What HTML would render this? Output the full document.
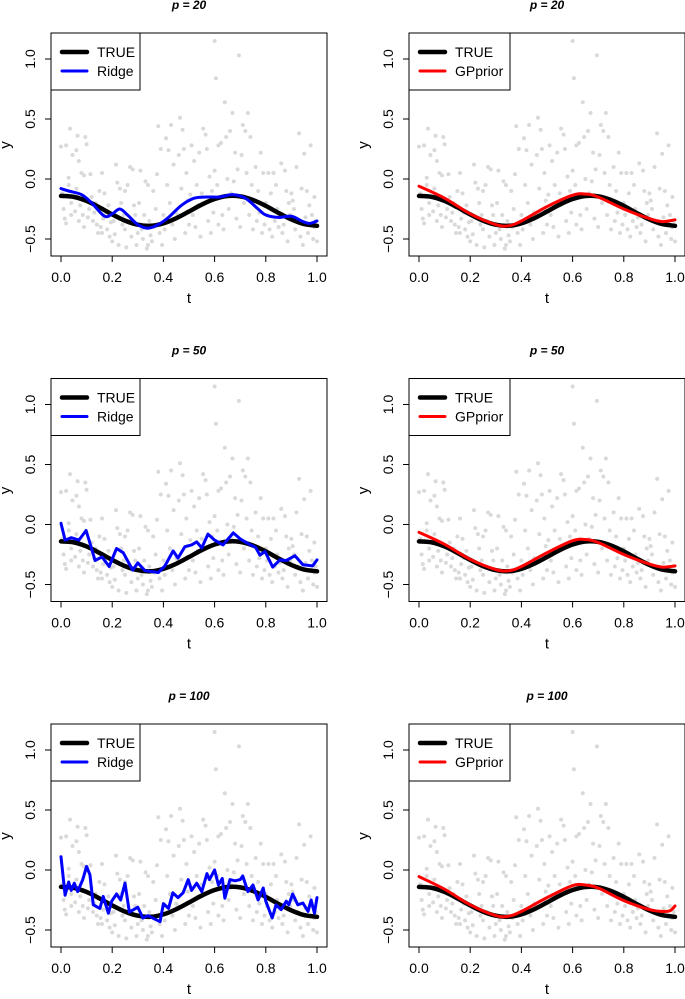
<!DOCTYPE html>
<html><head><meta charset="utf-8"><style>
html,body{margin:0;padding:0;background:#fff;}
svg{display:block;font-family:"Liberation Sans",Arial,sans-serif;}
</style></head><body>
<svg id="chart" width="685" height="999" viewBox="0 0 685 999"></svg>
<script>
// ---- data ----
const ptT=[0.0,0.02,0.035,0.01,0.02,0.03,0.04,0.005,0.045,0.03,0.015,0.04,
0.065,0.095,0.1,0.06,0.07,0.08,0.09,0.06,0.075,0.085,0.07,0.095,0.055,0.09,
0.115,0.12,0.13,0.14,0.11,0.145,0.125,0.15,0.135,0.105,
0.16,0.17,0.18,0.19,0.165,0.155,0.175,0.195,0.185,0.2,0.16,
0.215,0.22,0.23,0.24,0.25,0.21,0.225,0.245,0.235,0.205,0.25,
0.26,0.27,0.28,0.29,0.275,0.255,0.265,0.285,0.3,0.295,
0.31,0.33,0.34,0.32,0.335,0.315,0.345,0.305,0.325,0.35,0.34,
0.36,0.375,0.38,0.39,0.37,0.385,0.355,0.395,0.365,0.4,
0.41,0.42,0.43,0.44,0.415,0.425,0.435,0.445,0.405,0.45,
0.465,0.475,0.46,0.48,0.49,0.47,0.455,0.485,0.495,0.5,
0.51,0.52,0.54,0.53,0.505,0.515,0.525,0.545,0.535,0.55,
0.555,0.565,0.57,0.58,0.59,0.56,0.575,0.585,0.595,0.6,
0.6,0.605,0.615,0.625,0.64,0.645,0.61,0.62,0.63,0.635,0.65,0.615,
0.67,0.66,0.695,0.68,0.69,0.675,0.655,0.685,0.665,0.7,
0.71,0.73,0.72,0.74,0.705,0.725,0.745,0.715,0.735,0.75,
0.76,0.78,0.77,0.79,0.755,0.765,0.785,0.775,0.8,0.795,
0.81,0.83,0.82,0.84,0.805,0.815,0.825,0.835,0.845,0.85,
0.86,0.875,0.88,0.89,0.855,0.865,0.885,0.87,0.895,0.9,
0.93,0.92,0.94,0.91,0.925,0.935,0.945,0.915,0.95,0.905,
0.975,0.96,0.97,0.98,0.99,0.965,0.985,1.0,0.995,0.955,0.99];
const ptY=[0.27,0.28,0.42,-0.25,-0.37,-0.05,-0.2,-0.12,0.2,0.01,-0.33,-0.3,
0.36,0.35,0.29,0.24,0.15,0.05,0.03,-0.08,-0.22,-0.3,-0.35,-0.18,-0.27,-0.4,
0.04,-0.15,-0.28,-0.38,-0.25,-0.45,-0.35,-0.1,-0.2,-0.32,
0.05,-0.12,-0.42,-0.48,-0.33,-0.4,-0.28,-0.36,-0.22,-0.52,-0.45,
0.12,-0.03,-0.08,-0.38,-0.42,-0.46,-0.55,-0.3,-0.2,-0.35,-0.1,
-0.05,0.1,0.08,-0.3,-0.48,-0.57,-0.35,-0.22,-0.45,-0.55,
0.07,-0.02,-0.05,-0.5,-0.58,-0.42,-0.35,-0.2,-0.3,-0.47,-0.55,
-0.1,0.04,0.44,0.25,-0.25,-0.45,-0.52,-0.55,-0.4,-0.3,
0.34,0.24,0.45,0.12,-0.05,-0.2,-0.38,-0.5,-0.42,-0.28,
0.51,0.41,0.2,0.25,0.05,-0.08,-0.3,-0.45,-0.18,-0.38,
0.28,0.15,0.22,-0.05,-0.13,-0.3,-0.4,-0.48,-0.22,-0.12,
0.42,0.37,0.25,0.02,-0.1,-0.2,-0.35,-0.45,-0.28,0.07,
1.15,0.84,0.28,0.3,0.64,0.35,-0.05,-0.15,-0.3,-0.42,0.0,-0.38,
0.55,0.4,1.03,0.22,0.08,-0.02,-0.25,-0.33,-0.12,-0.4,
0.45,0.55,0.4,0.35,0.2,0.05,-0.05,-0.2,-0.3,-0.42,
0.1,0.22,-0.1,0.05,-0.18,-0.35,-0.45,-0.28,-0.2,-0.38,
0.05,0.05,-0.12,-0.05,-0.3,-0.42,-0.48,-0.35,-0.25,-0.4,
0.13,0.07,-0.1,-0.2,-0.32,-0.45,-0.52,-0.38,-0.3,-0.12,
0.38,0.1,-0.08,-0.25,-0.35,-0.48,-0.55,-0.42,0.21,-0.18,
0.28,-0.1,-0.22,-0.3,-0.4,-0.45,-0.5,-0.52,-0.35,-0.32,-0.15];

const trueT=[0,0.05,0.1,0.15,0.2,0.25,0.3,0.35,0.4,0.45,0.5,0.55,0.6,0.65,0.7,0.75,0.8,0.85,0.9,0.95,1.0];
const trueY=[-0.141,-0.149,-0.183,-0.236,-0.295,-0.347,-0.381,-0.390,-0.370,-0.327,-0.271,-0.213,-0.167,-0.142,-0.145,-0.175,-0.224,-0.283,-0.337,-0.376,-0.390];

const r20T=[0,0.03,0.08,0.12,0.17,0.2,0.23,0.26,0.3,0.34,0.38,0.42,0.47,0.52,0.57,0.62,0.67,0.72,0.77,0.8,0.85,0.9,0.94,0.97,1.0];
const r20Y=[-0.08,-0.1,-0.13,-0.2,-0.31,-0.29,-0.25,-0.3,-0.38,-0.41,-0.38,-0.32,-0.22,-0.16,-0.15,-0.15,-0.13,-0.16,-0.25,-0.3,-0.32,-0.31,-0.35,-0.37,-0.35];

const r50T=[0,0.016,0.04,0.07,0.098,0.113,0.133,0.16,0.188,0.217,0.243,0.28,0.3,0.328,0.38,0.406,0.438,0.457,0.484,0.51,0.53,0.55,0.574,0.6,0.633,0.673,0.7,0.74,0.76,0.777,0.797,0.827,0.855,0.88,0.914,0.945,0.983,1.0];
const r50Y=[0.01,-0.13,-0.11,-0.13,-0.05,-0.155,-0.3,-0.27,-0.35,-0.2,-0.235,-0.38,-0.32,-0.385,-0.4,-0.345,-0.22,-0.28,-0.185,-0.17,-0.145,-0.195,-0.08,-0.13,-0.17,-0.07,-0.12,-0.17,-0.19,-0.255,-0.225,-0.355,-0.295,-0.3,-0.26,-0.335,-0.345,-0.295];

const r100T=[0,0.016,0.03,0.04,0.052,0.065,0.085,0.1,0.113,0.126,0.152,0.165,0.185,0.198,0.217,0.233,0.25,0.267,0.284,0.3,0.32,0.34,0.367,0.387,0.4,0.42,0.437,0.457,0.477,0.497,0.51,0.53,0.55,0.57,0.58,0.6,0.615,0.63,0.64,0.66,0.68,0.7,0.71,0.73,0.75,0.77,0.79,0.8,0.825,0.84,0.86,0.88,0.89,0.905,0.925,0.945,0.965,0.977,0.99,1.0];
const r100Y=[0.11,-0.21,-0.1,-0.17,-0.11,-0.18,-0.08,0.03,-0.04,-0.29,-0.32,-0.22,-0.36,-0.26,-0.2,-0.25,-0.11,-0.35,-0.33,-0.31,-0.4,-0.38,-0.41,-0.43,-0.28,-0.32,-0.19,-0.23,-0.19,-0.08,-0.17,-0.11,-0.18,-0.03,-0.08,0.0,-0.125,-0.07,-0.235,-0.08,-0.09,-0.08,-0.05,-0.18,-0.125,-0.25,-0.15,-0.26,-0.4,-0.29,-0.33,-0.26,-0.29,-0.2,-0.29,-0.275,-0.345,-0.25,-0.36,-0.23];

const gp20T=[0,0.1,0.2,0.3,0.35,0.4,0.5,0.6,0.65,0.7,0.8,0.9,0.95,1.0];
const gp20Y=[-0.06,-0.16,-0.29,-0.38,-0.39,-0.35,-0.23,-0.135,-0.125,-0.15,-0.25,-0.33,-0.355,-0.34];
const gp50T=[0,0.1,0.2,0.3,0.35,0.4,0.5,0.6,0.65,0.7,0.8,0.9,0.95,1.0];
const gp50Y=[-0.065,-0.165,-0.29,-0.375,-0.385,-0.35,-0.235,-0.135,-0.125,-0.15,-0.25,-0.33,-0.355,-0.345];
const gp100T=[0,0.1,0.2,0.3,0.35,0.4,0.5,0.6,0.65,0.7,0.8,0.9,0.95,0.98,1.0];
const gp100Y=[-0.055,-0.16,-0.29,-0.38,-0.385,-0.345,-0.23,-0.13,-0.125,-0.15,-0.255,-0.33,-0.345,-0.34,-0.3];

const xTicks=[0,0.2,0.4,0.6,0.8,1.0];
const xTickLabels=["0.0","0.2","0.4","0.6","0.8","1.0"];
const yTicks=[-0.5,0,0.5,1.0];
const yTickLabels=["\u22120.5","0.0","0.5","1.0"];

// ---- drawing ----
const NS="http://www.w3.org/2000/svg";
const svg=document.getElementById('chart');
function mk(tag,attrs,parent){const e=document.createElementNS(NS,tag);for(const k in attrs)e.setAttribute(k,attrs[k]);(parent||svg).appendChild(e);return e;}

function smoothPath(pts){
  let d="M"+pts[0][0].toFixed(2)+","+pts[0][1].toFixed(2);
  for(let i=0;i<pts.length-1;i++){
    const p0=pts[Math.max(0,i-1)],p1=pts[i],p2=pts[i+1],p3=pts[Math.min(pts.length-1,i+2)];
    const c1=[p1[0]+(p2[0]-p0[0])/6,p1[1]+(p2[1]-p0[1])/6];
    const c2=[p2[0]-(p3[0]-p1[0])/6,p2[1]-(p3[1]-p1[1])/6];
    d+=" C"+c1[0].toFixed(2)+","+c1[1].toFixed(2)+" "+c2[0].toFixed(2)+","+c2[1].toFixed(2)+" "+p2[0].toFixed(2)+","+p2[1].toFixed(2);
  }
  return d;
}
function linePath(pts){return pts.map((p,i)=>(i?"L":"M")+p[0].toFixed(2)+","+p[1].toFixed(2)).join(" ");}

function panel(ox,oy,title,fitT,fitY,fitColor,fitName,smooth,key){
  const g=mk('g',{});
  
  
  const sx=t=>ox+10+t*256;
  const sy=y=>oy+146-y*120;
  const W=276,H=223;
  const tt=mk('text',{x:ox+W/2,y:oy-24,'text-anchor':'middle','font-size':'12','font-weight':'bold','font-style':'italic'},g);
  tt.textContent=title;
  
  
  const pg=mk('g',{fill:'#d9d9d9'},g);
  
  
  for(let i=0;i<ptT.length;i++){
    const c=mk('circle',{cx:sx(ptT[i]).toFixed(1),cy:sy(ptY[i]).toFixed(1),r:2},pg);
    
    
  }
  const tp=mk('path',{d:smoothPath(trueT.map((t,i)=>[sx(t),sy(trueY[i])])),fill:'none',stroke:'#000','stroke-width':4.5,'stroke-linecap':'round','stroke-linejoin':'round'},g);
  
  
  const fpts=fitT.map((t,i)=>[sx(t),sy(fitY[i])]);
  const fp=mk('path',{d:smooth?smoothPath(fpts):linePath(fpts),fill:'none',stroke:fitColor,'stroke-width':3,'stroke-linecap':'round','stroke-linejoin':'round'},g);
  
  
  const bx=mk('rect',{x:ox,y:oy,width:W,height:H,fill:'none',stroke:'#000','stroke-width':1},g);
  
  
  const xa=mk('g',{},g);
  
  
  mk('line',{x1:sx(0),x2:sx(1),y1:oy+H,y2:oy+H,stroke:'#000'},xa);
  xTicks.forEach((v,i)=>{
    mk('line',{x1:sx(v),x2:sx(v),y1:oy+H,y2:oy+H+6,stroke:'#000'},xa);
    const l=mk('text',{x:sx(v),y:oy+H+26,'text-anchor':'middle','font-size':'14'},xa);
    l.textContent=xTickLabels[i];
    
    
  });
  const xt=mk('text',{x:ox+W/2,y:oy+H+47,'text-anchor':'middle','font-size':'15'},g);
  xt.textContent='t';
  
  
  const ya=mk('g',{},g);
  
  
  mk('line',{x1:ox,x2:ox,y1:sy(-0.5),y2:sy(1),stroke:'#000'},ya);
  yTicks.forEach((v,i)=>{
    mk('line',{x1:ox,x2:ox-6,y1:sy(v),y2:sy(v),stroke:'#000'},ya);
    const l=mk('text',{x:0,y:0,'text-anchor':'middle','font-size':'14',transform:'translate('+(ox-16)+','+sy(v)+') rotate(-90)'},ya);
    l.textContent=yTickLabels[i];
    
    
  });
  const yt=mk('text',{x:0,y:0,'text-anchor':'middle','font-size':'15',transform:'translate('+(ox-41)+','+(oy+112)+') rotate(-90)'},g);
  yt.textContent='y';
  
  
  const lg=mk('g',{},g);
  
  
  const lw=fitName==='GPprior'?101:89;
  mk('rect',{x:ox,y:oy,width:lw,height:57,fill:'#fff',stroke:'#000','stroke-width':1},lg);
  mk('line',{x1:ox+11,x2:ox+36,y1:oy+19,y2:oy+19,stroke:'#000','stroke-width':4.5,'stroke-linecap':'round'},lg);
  const l1=mk('text',{x:ox+46,y:oy+24,'font-size':'14'},lg);
  l1.textContent='TRUE';
  
  
  mk('line',{x1:ox+11,x2:ox+36,y1:oy+38,y2:oy+38,stroke:fitColor,'stroke-width':3,'stroke-linecap':'round'},lg);
  const l2=mk('text',{x:ox+46,y:oy+43,'font-size':'14'},lg);
  l2.textContent=fitName;
  
  
}
const L=51,R=409,rows=[33,378.5,724];
panel(L,rows[0],'p = 20',r20T,r20Y,'#0000ff','Ridge',true,'ridge-p20');
panel(R,rows[0],'p = 20',gp20T,gp20Y,'#ff0000','GPprior',true,'gp-p20');
panel(L,rows[1],'p = 50',r50T,r50Y,'#0000ff','Ridge',false,'ridge-p50');
panel(R,rows[1],'p = 50',gp50T,gp50Y,'#ff0000','GPprior',true,'gp-p50');
panel(L,rows[2],'p = 100',r100T,r100Y,'#0000ff','Ridge',false,'ridge-p100');
panel(R,rows[2],'p = 100',gp100T,gp100Y,'#ff0000','GPprior',true,'gp-p100');
</script>
</body></html>
